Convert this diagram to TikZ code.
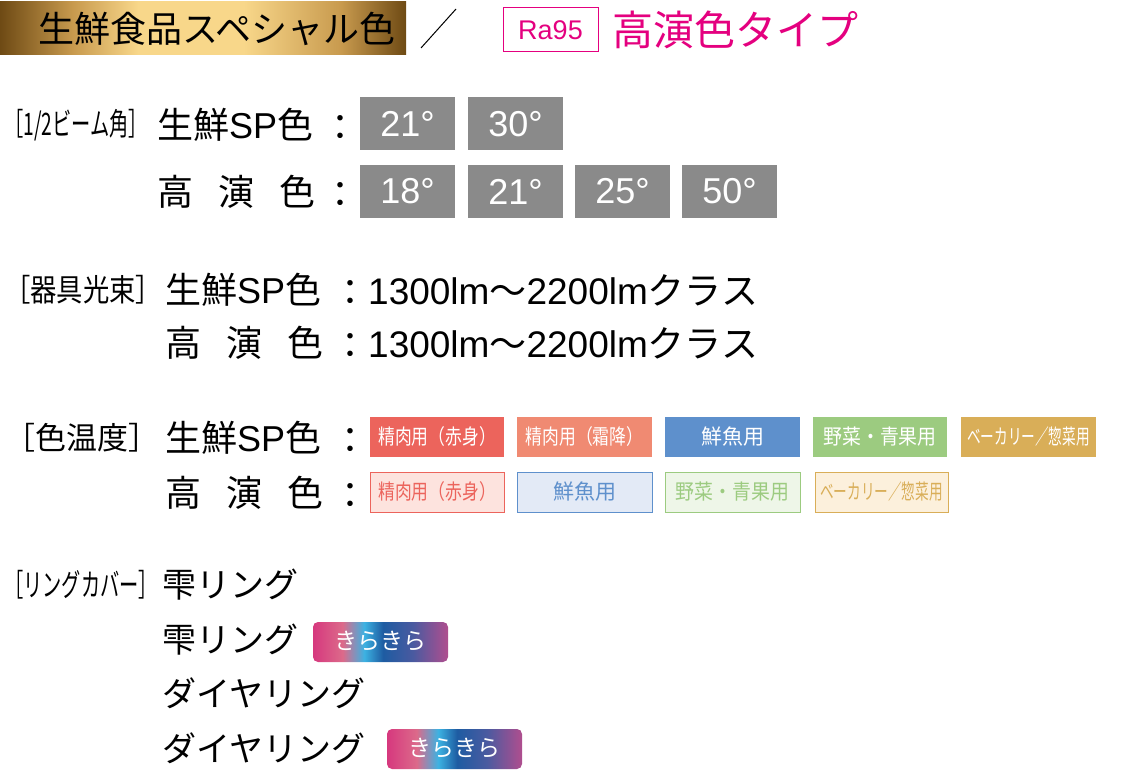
\documentclass[tikz,border=0pt]{standalone}
\usepackage{fontspec}
\setmainfont{Liberation Sans}
\newfontfamily\jp{Noto Sans CJK JP}
\newfontfamily\la{Liberation Sans}
\definecolor{gdk}{HTML}{6E4A14}
\definecolor{gmd}{HTML}{C89A4E}
\definecolor{glt}{HTML}{F8D78A}
\definecolor{k1}{HTML}{D6387E}
\definecolor{k2}{HTML}{DC6A8A}
\definecolor{k3}{HTML}{3CB2E2}
\definecolor{k4}{HTML}{1E5CA2}
\definecolor{k5}{HTML}{4A5AA0}
\definecolor{k6}{HTML}{B04E8E}
\pgfdeclarehorizontalshading{gold}{100bp}{color(0bp)=(gdk);color(25bp)=(gdk);color(34bp)=(gmd);color(42bp)=(glt);color(55bp)=(glt);color(67bp)=(gmd);color(75bp)=(gdk);color(100bp)=(gdk)}
\pgfdeclarehorizontalshading{kira}{100bp}{color(0bp)=(k1);color(25bp)=(k1);color(36bp)=(k2);color(44bp)=(k3);color(51bp)=(k4);color(62bp)=(k5);color(75bp)=(k6);color(100bp)=(k6)}
\definecolor{pink}{HTML}{E4007F}
\definecolor{gbox}{HTML}{8A8A8A}
\definecolor{cA}{HTML}{EC645C}
\definecolor{cB}{HTML}{F08A72}
\definecolor{cC}{HTML}{5E90CC}
\definecolor{cD}{HTML}{9CCB80}
\definecolor{cE}{HTML}{D9AE58}
\definecolor{lA}{HTML}{FDE3DE}
\definecolor{lC}{HTML}{E3EAF6}
\definecolor{lD}{HTML}{EEF6E8}
\definecolor{lE}{HTML}{FCF0DC}
\tikzset{
 lbl/.style={anchor=west,inner sep=0pt,font=\jp\fontsize{36}{36}\selectfont},
 col/.style={anchor=center,inner sep=0pt,font=\jp\fontsize{36}{36}\selectfont},
 brk/.style={anchor=west,inner sep=0pt,font=\jp\fontsize{31}{31}\selectfont},
 deg/.style={fill=gbox,text=white,inner sep=0pt,font=\la\fontsize{36}{36}\selectfont},
 tag/.style={inner sep=0pt,font=\jp\fontsize{21}{21}\selectfont},
 tagS/.style={tag,text=white},
}
\newcommand{\cond}[2][0.62]{\scalebox{#1}[1]{#2}}
\begin{document}
\begin{tikzpicture}[x=1pt,y=-1pt]
\useasboundingbox (0,0) rectangle (1121,783);
% header
\shade[shading=gold] (0,2) rectangle (406,55);
\node[inner sep=0pt,font=\jp\fontsize{36}{36}\selectfont] (hd) at (217,29) {生鮮食品スペシャル色};
\coordinate (s1) at (421,48); \coordinate (s2) at (456,9);
\draw[line width=1pt] (s1) -- (s2);
\node[draw=pink,line width=1pt,text=pink,minimum width=95pt,minimum height=44pt,inner sep=0pt,font=\la\fontsize{27}{27}\selectfont] (ra) at (550.5,30) {Ra95};
\node[anchor=west,inner sep=0pt,text=pink,font=\jp\fontsize{41}{41}\selectfont] (hk) at (612,30) {高演色タイプ};
% beam angle
\node[brk] (b1) at (4,125) {\cond{［1/2ビーム角］}};
\node[lbl] (r1) at (157,125) {生鮮\la SP\jp 色};
\node[col] (c1) at (340,128) {：};
\foreach \x/\t/\n in {360/21/a,468/30/b}
  \node[deg,minimum width=95pt,minimum height=53pt] (d1\n) at (\x+47.5,124) {\t°};
\node[lbl] (r2) at (157,192) {高\hspace{25pt}演\hspace{25pt}色};
\node[col] (c2) at (340,195) {：};
\foreach \x/\t/\n in {360/18/a,468/21/b,575/25/c,682/50/d}
  \node[deg,minimum width=95pt,minimum height=53pt] (d2\n) at (\x+47.5,191.5) {\t°};
% flux
\node[brk] (b2) at (4,290) {\cond[0.85]{［器具光束］}};
\node[lbl] (r3) at (165,290) {生鮮\la SP\jp 色};
\node[col] (c3) at (350,293) {：};
\node[lbl,font=\jp\fontsize{37}{37}\selectfont] (v3) at (368,290) {\la 1300lm\jp ～\la 2200lm\jp クラス};
\node[lbl] (r4) at (165,343) {高\hspace{25pt}演\hspace{25pt}色};
\node[col] (c4) at (350,346) {：};
\node[lbl,font=\jp\fontsize{37}{37}\selectfont] (v4) at (368,343) {\la 1300lm\jp ～\la 2200lm\jp クラス};
% color temp
\node[brk] (b3) at (4,438) {［色温度］};
\node[lbl] (r5) at (165,438) {生鮮\la SP\jp 色};
\node[col] (c5) at (350,441) {：};
\node[tagS,fill=cA,minimum width=134pt,minimum height=40pt] (t1) at (437,437) {\cond[0.8]{精肉用（赤身）}};
\node[tagS,fill=cB,minimum width=135pt,minimum height=40pt] (t2) at (584.5,437) {\cond[0.8]{精肉用（霜降）}};
\node[tagS,fill=cC,minimum width=135pt,minimum height=40pt] (t3) at (732.5,437) {鮮魚用};
\node[tagS,fill=cD,minimum width=134pt,minimum height=40pt] (t4) at (880,437) {\cond[0.9]{野菜・青果用}};
\node[tagS,fill=cE,minimum width=135pt,minimum height=40pt] (t5) at (1028.5,437) {\cond[0.65]{ベーカリー／惣菜用}};
\node[lbl] (r6) at (165,493) {高\hspace{25pt}演\hspace{25pt}色};
\node[col] (c6) at (350,496) {：};
\node[tag,fill=lA,draw=cA,text=cA,minimum width=134pt,minimum height=40pt] (u1) at (437,492) {\cond[0.8]{精肉用（赤身）}};
\node[tag,fill=lC,draw=cC,text=cC,minimum width=135pt,minimum height=40pt] (u2) at (584.5,492) {鮮魚用};
\node[tag,fill=lD,draw=cD,text=cD,minimum width=135pt,minimum height=40pt] (u3) at (732.5,492) {\cond[0.9]{野菜・青果用}};
\node[tag,fill=lE,draw=cE,text=cE,minimum width=133pt,minimum height=40pt] (u4) at (881.5,492) {\cond[0.65]{ベーカリー／惣菜用}};
% ring
\node[brk] (b4) at (4,585) {\cond[0.62]{［リングカバー］}};
\node[lbl,font=\jp\fontsize{34}{34}\selectfont] (g1) at (162,585) {雫リング};
\node[lbl,font=\jp\fontsize{34}{34}\selectfont] (g2) at (162,640) {雫リング};
\shade[shading=kira,rounded corners=5pt] (313,622) rectangle (448,662);
\node[inner sep=0pt,text=white,font=\jp\fontsize{23}{23}\selectfont] (k1n) at (380.5,641) {きらきら};
\node[lbl,font=\jp\fontsize{34}{34}\selectfont] (g3) at (162,693) {ダイヤリング};
\node[lbl,font=\jp\fontsize{34}{34}\selectfont] (g4) at (162,748) {ダイヤリング};
\shade[shading=kira,rounded corners=5pt] (387,729) rectangle (522,769);
\node[inner sep=0pt,text=white,font=\jp\fontsize{23}{23}\selectfont] (k2n) at (454.5,748) {きらきら};
\end{tikzpicture}
\end{document}
